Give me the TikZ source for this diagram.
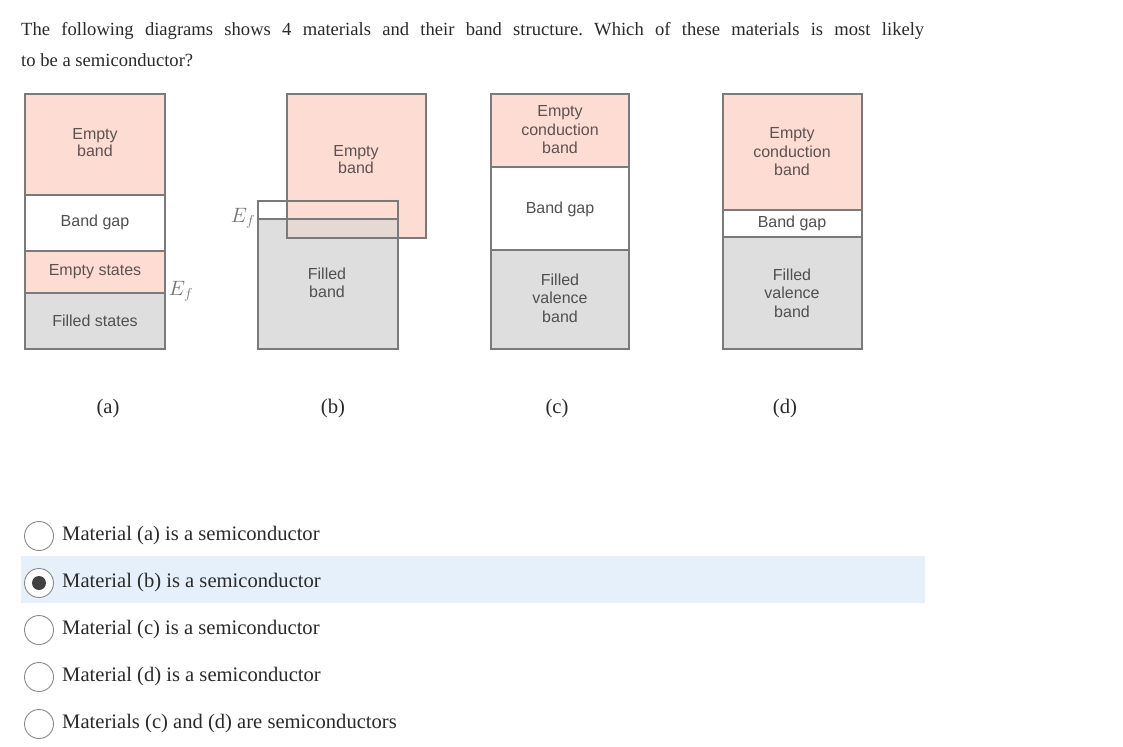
\documentclass[tikz,border=0pt]{standalone}
\usepackage{fontspec}
\setmainfont{Liberation Serif}
\newfontfamily\bandfont{Liberation Sans}
\definecolor{pinkband}{HTML}{FDDDD3}
\definecolor{grayband}{HTML}{DEDEDE}
\definecolor{overlapcol}{HTML}{E6D8D3}
\definecolor{edgecol}{HTML}{7A7A7A}
\definecolor{labeltext}{HTML}{505050}
\definecolor{pinktext}{HTML}{5E5250}
\definecolor{hlcol}{HTML}{E6F0FA}
\definecolor{qtext}{HTML}{2A2A2A}
\definecolor{radioedge}{HTML}{8A8A8A}
\frenchspacing
\begin{document}
\begin{tikzpicture}[x=1pt,y=-1pt,
  bandline/.style={draw=edgecol, line width=1.1pt},
  pinkfill/.style={fill=pinkband},
  grayfill/.style={fill=grayband},
  blabel/.style={font=\bandfont\fontsize{16}{18.5}\selectfont, text=labeltext, align=center, inner sep=0pt},
  plabel/.style={blabel, text=pinktext},
  eflabel/.style={font=\fontsize{20}{22}\selectfont, text=black!55, inner sep=0pt},
  qline/.style={font=\fontsize{18.6}{22}\selectfont, text=qtext, anchor=base west, inner sep=0pt},
  caption/.style={font=\fontsize{20.7}{24}\selectfont, text=qtext, anchor=base, inner sep=0pt},
  opttext/.style={font=\fontsize{20.6}{24}\selectfont, text=qtext, anchor=base west, inner sep=0pt},
  radio/.style={circle, draw=radioedge, line width=0.9pt, fill=white, minimum size=29pt, inner sep=0pt},
  radiodot/.style={circle, fill=black!75, minimum size=14pt, inner sep=0pt}
]
\useasboundingbox[fill=white] (0,0) rectangle (1123,746);

% question
\node[qline] (q1) at (21,36) {\frenchspacing\hbox to 903pt{The following diagrams shows 4 materials and their band structure. Which of these materials is most likely}};
\node[qline] (q2) at (21,67) {to be a semiconductor?};

% ---- (a)
\fill[pinkfill] (25,94) rectangle (165,195);
\fill[white] (25,195) rectangle (165,251);
\fill[pinkfill] (25,251) rectangle (165,293);
\fill[grayfill] (25,293) rectangle (165,349);
\draw[bandline] (25,94) rectangle (165,349);
\draw[bandline] (25,195) -- (165,195);
\draw[bandline] (25,251) -- (165,251);
\draw[bandline] (25,293) -- (165,293);
\node[plabel] (a1) at (95,143) {Empty\\[-1.5pt]band};
\node[blabel] (a2) at (95,222) {Band gap};
\node[plabel] (a3) at (95,272) {Empty states};
\node[blabel] (a4) at (95,321) {Filled states};
\node[eflabel] (efa) at (181,291) {$E_f$};

% ---- (b)
\fill[white] (258,201) rectangle (398,219);
\fill[grayfill] (258,219) rectangle (398,349);
\fill[pinkfill] (287,94) rectangle (426,238);
\fill[overlapcol] (287,219) rectangle (398,238);
\draw[bandline] (258,201) rectangle (398,349);
\draw[bandline] (258,219) -- (398,219);
\draw[bandline] (287,94) rectangle (426,238);
\node[plabel] (b1) at (356,160) {Empty\\[-1.5pt]band};
\node[blabel] (b2) at (327,283) {Filled\\band};
\node[eflabel] (efb) at (243,218) {$E_f$};

% ---- (c)
\fill[pinkfill] (491,94) rectangle (629,167);
\fill[white] (491,167) rectangle (629,250);
\fill[grayfill] (491,250) rectangle (629,349);
\draw[bandline] (491,94) rectangle (629,349);
\draw[bandline] (491,167) -- (629,167);
\draw[bandline] (491,250) -- (629,250);
\node[plabel] (c1) at (560,130) {Empty\\conduction\\band};
\node[blabel] (c2) at (560,209) {Band gap};
\node[blabel] (c3) at (560,298) {Filled\\valence\\band};

% ---- (d)
\fill[pinkfill] (723,94) rectangle (862,210);
\fill[white] (723,210) rectangle (862,237);
\fill[grayfill] (723,237) rectangle (862,349);
\draw[bandline] (723,94) rectangle (862,349);
\draw[bandline] (723,210) -- (862,210);
\draw[bandline] (723,237) -- (862,237);
\node[plabel] (d1) at (792,152) {Empty\\conduction\\band};
\node[blabel] (d2) at (792,223) {Band gap};
\node[blabel] (d3) at (792,293) {Filled\\valence\\band};

% captions
\node[caption] (ca) at (108,413) {(a)};
\node[caption] (cb) at (333,413) {(b)};
\node[caption] (cc) at (557,413) {(c)};
\node[caption] (cd) at (785,413) {(d)};

% options
\fill[hlcol] (21,556) rectangle (925,603);
\node[radio] (r1) at (39,536) {};
\node[radio] (r2) at (39,583) {};
\node[radiodot] (r2dot) at (39,583) {};
\node[radio] (r3) at (39,630) {};
\node[radio] (r4) at (39,677) {};
\node[radio] (r5) at (39,724) {};
\node[opttext] (o1) at (62,540) {Material (a) is a semiconductor};
\node[opttext] (o2) at (62,587) {Material (b) is a semiconductor};
\node[opttext] (o3) at (62,634) {Material (c) is a semiconductor};
\node[opttext] (o4) at (62,681) {Material (d) is a semiconductor};
\node[opttext] (o5) at (62,728) {Materials (c) and (d) are semiconductors};
\end{tikzpicture}
\end{document}
